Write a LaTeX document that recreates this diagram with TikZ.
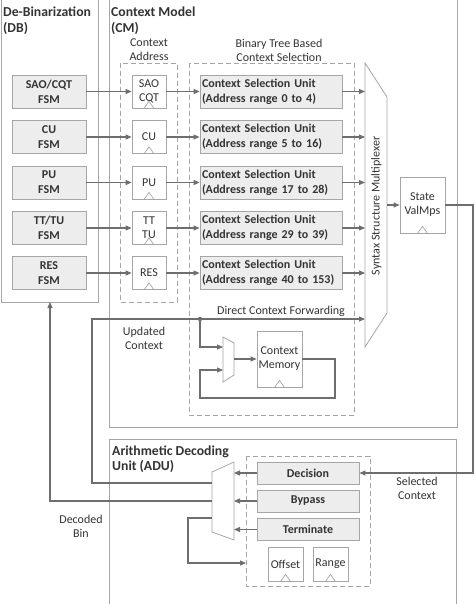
\documentclass[tikz,border=0pt]{standalone}
\usepackage{fontspec}
\setmainfont{Carlito}
\usetikzlibrary{arrows.meta}
\definecolor{ln}{HTML}{6E6E6E}
\definecolor{bd}{HTML}{A6A6A6}
\definecolor{fl}{HTML}{EDEDED}
\definecolor{tx}{HTML}{333333}
\begin{document}
\begin{tikzpicture}[x=1pt,y=-1pt,
  frame/.style={draw=bd, line width=1pt},
  dbox/.style={draw=bd, dash pattern=on 5pt off 3pt, line width=0.9pt},
  fsm/.style={draw=bd, fill=fl, line width=0.8pt, minimum width=74pt, minimum height=33pt, inner sep=0pt, align=center, font=\bfseries\fontsize{12}{15}\selectfont, text=tx},
  csu/.style={fsm, minimum width=142pt, text width=138pt, align=left, inner xsep=2pt},
  reg/.style={draw=bd, fill=white, line width=0.8pt, minimum width=34pt, minimum height=33pt, inner sep=0pt, align=center, font=\fontsize{12}{14}\selectfont, text=tx},
  adb/.style={fsm, minimum width=102pt, minimum height=22pt},
  arr/.style={draw=ln, line width=1.1pt, -{Triangle[length=6pt,width=5pt]}},
  lbl/.style={text=tx, align=center, font=\fontsize{12}{14}\selectfont, inner sep=0pt},
  ttl/.style={text=tx, font=\bfseries\fontsize{13.7}{16}\selectfont, anchor=base west, inner sep=0pt},
  clk/.style={draw=bd, line width=0.7pt}
]
\useasboundingbox (0,0) rectangle (474,604);
\fill[white] (0,0) rectangle (474,604);
% frames
\draw[frame] (1,-3) -- (1,302) -- (98,302) -- (98,-3);
\draw[frame] (109,-3) -- (109,427) -- (457,427) -- (457,-3);
\draw[frame] (109,610) -- (109,439) -- (456,439) -- (456,610);
% titles
\node[ttl] (tdb1) at (3,17) {De-Binarization};
\node[ttl] (tdb2) at (3,33) {(DB)};
\node[ttl] (tcm1) at (111,17) {Context Model};
\node[ttl] (tcm2) at (111,33) {(CM)};
\node[ttl] (tad1) at (112,455) {Arithmetic Decoding};
\node[ttl] (tad2) at (112,470) {Unit (ADU)};
% dashed groups
\draw[dbox] (120,63) rectangle (177,302);
\draw[dbox] (189,63) rectangle (354,415);
\draw[dbox] (246,456) rectangle (370,586);
\node[lbl] (lca) at (149,50) {Context\\Address};
\node[lbl] (lbt) at (279,50) {Binary Tree Based\\Context Selection};
% rows
\node[fsm] (f1) at (49,91.5) {SAO/CQT\\FSM};
\node[fsm] (f2) at (49,137) {CU\\FSM};
\node[fsm] (f3) at (49,182.5) {PU\\FSM};
\node[fsm] (f4) at (49,228) {TT/TU\\FSM};
\node[fsm] (f5) at (49,273) {RES\\FSM};
\node[reg] (a1) at (149,91.5) {SAO\\CQT};
\node[reg] (a2) at (149,137) {CU};
\node[reg] (a3) at (149,182.5) {PU};
\node[reg] (a4) at (149,228) {TT\\TU};
\node[reg] (a5) at (149,273) {RES};
\node[csu] (c1) at (271,91.5) {Context Selection Unit\\(Address range 0 to 4)};
\node[csu] (c2) at (271,137) {Context Selection Unit\\(Address range 5 to 16)};
\node[csu] (c3) at (271,182.5) {Context Selection Unit\\(Address range 17 to 28)};
\node[csu] (c4) at (271,228) {Context Selection Unit\\(Address range 29 to 39)};
\node[csu] (c5) at (271,273) {Context Selection Unit\\(Address range 40 to 153)};
\foreach \r in {a1,a2,a3,a4,a5}{\draw[clk] ([xshift=-5pt]\r.south) -- ([yshift=7pt]\r.south) -- ([xshift=5pt]\r.south);}
% big multiplexer
\draw[draw=bd, line width=0.8pt, fill=white] (365,63) -- (387,97) -- (387,313) -- (365,347) -- cycle;
\node[lbl, rotate=90] (mxlbl) at (376.5,206) {Syntax Structure Multiplexer};
\coordinate (mxl) at (365,0);
\foreach \i in {1,...,5}{
  \draw[arr] (f\i.east) -- (a\i.west);
  \draw[arr] (a\i.east) -- (c\i.west);
  \draw[arr] (c\i.east) -- (c\i.east -| mxl);
}
% state
\node[reg, minimum width=45pt, minimum height=56pt] (st) at (422.5,205) {State\\ValMps};
\draw[clk] ([xshift=-5pt]st.south) -- ([yshift=7pt]st.south) -- ([xshift=5pt]st.south);
\coordinate (mxo) at (387,205);
\draw[arr] (mxo) -- (st.west);
% context memory
\node[reg, minimum width=45pt, minimum height=56pt] (cm) at (279.5,359) {Context\\Memory};
\draw[clk] ([xshift=-5pt]cm.south) -- ([yshift=7pt]cm.south) -- ([xshift=5pt]cm.south);
\draw[draw=bd, line width=0.8pt, fill=white] (223,337) -- (234,343) -- (234,375) -- (223,382) -- cycle;
\coordinate (smo) at (234,359);
\coordinate (sm1) at (223,347);
\coordinate (sm2) at (223,370);
\draw[arr] (smo) -- (cm.west);
\coordinate (lp1) at (335,398);
\coordinate (lp2) at (200,398);
\draw[arr] (cm.east) -| (lp1) -- (lp2) |- (sm2);
% forwarding
\node[lbl] (ldf) at (281,311) {Direct Context Forwarding};
\node[lbl] (luc) at (144,338) {Updated\\Context};
\coordinate (fwdL) at (92,319);
\coordinate (fwdR) at (365,319);
\coordinate (dot) at (200,319);
% ADU
\node[adb] (dec) at (308,473) {Decision};
\node[adb] (byp) at (308,501) {Bypass};
\node[adb] (ter) at (308,529.5) {Terminate};
\node[reg, minimum width=35pt, minimum height=34pt] (off) at (285.5,564) {Offset};
\node[reg, minimum width=35pt, minimum height=34pt] (rng) at (330.5,564) {Range};
\draw[clk] ([xshift=-5pt]off.south) -- ([yshift=7pt]off.south) -- ([xshift=5pt]off.south);
\draw[clk] ([xshift=-5pt]rng.south) -- ([yshift=7pt]rng.south) -- ([xshift=5pt]rng.south);
\draw[draw=bd, line width=0.8pt, fill=white] (234,462) -- (234,540) -- (212,532) -- (212,472) -- cycle;
\coordinate (amr) at (234,0);
\foreach \b in {dec,byp,ter}{\draw[arr] (\b.west) -- (\b.west -| amr);}
\coordinate (am1) at (212,483);
\coordinate (am2) at (212,501);
\coordinate (am3) at (212,518);
\coordinate (dbb) at (50,302);
\coordinate (fb) at (188,563);
\coordinate (fbe) at (246,563);
\coordinate (sc) at (473,473);
\draw[arr] (am1) -| (fwdL) -- (fwdR);
\fill[ln] (dot) circle (2.2pt);
\draw[arr] (dot) |- (sm1);
\draw[arr] (am2) -| (dbb);
\draw[arr] (am3) -| (fb) -- (fbe);
\draw[arr] (st.east) -| (sc) -- (dec.east);
\node[lbl] (lsc) at (417,488) {Selected\\Context};
\node[lbl] (ldb) at (81,526) {Decoded\\Bin};
\end{tikzpicture}
\end{document}
